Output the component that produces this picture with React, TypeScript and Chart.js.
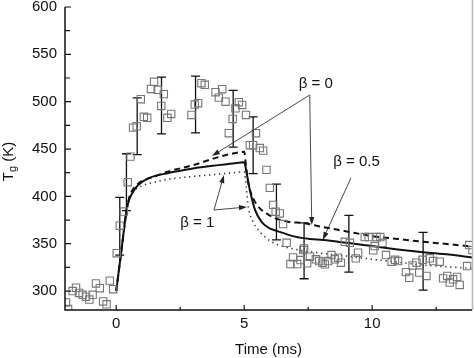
import React, { useEffect, useRef } from "react";
import { Chart, registerables } from "chart.js";
Chart.register(...registerables);

// ---- data ----
const sqX = [
  -1.96, -1.88, -1.7, -1.57, -1.45, -1.31, -1.18, -1.05, -0.92, -0.79, -0.64, -0.51, -0.375, -0.25, -0.12,
  0.02, 0.14, 0.3, 0.45, 0.56, 0.66, 0.8, 0.96, 1.08, 1.21, 1.36, 1.48, 1.62, 1.76, 1.86, 2.0, 2.15,
  2.94, 3.07, 3.2, 3.33, 3.46, 3.88, 4.01, 4.14, 4.27, 4.4, 4.55, 4.66, 4.79, 4.92, 5.07, 5.22, 5.35, 5.46, 5.61, 5.74, 5.87,
  6.0, 6.13, 6.23, 6.39, 6.52, 6.66, 7.34,
  6.81, 6.91, 7.07, 7.2, 7.31, 7.46, 7.57, 7.8, 7.93, 8.06, 8.15, 8.28, 8.41, 8.54, 8.67, 8.78, 8.93, 9.13, 9.36, 9.45,
  9.71, 9.86, 10.04, 10.1, 10.17, 10.32, 10.4, 10.54, 10.76, 10.89, 11.01, 11.32, 11.45, 11.58, 11.73, 11.84, 11.97,
  12.12, 12.25, 12.38, 12.64, 12.77, 12.93, 13.03, 13.16, 13.32, 13.42, 13.71, 13.79, 13.92,
];
const sqY = [
  288, 281, 300, 303.5, 298, 296, 294, 291, 296, 308, 303, 289, 286, 311, 302,
  340, 369, 384, 415, 442, 472.6, 474, 502.6, 484, 483, 513.5, 521, 512.5, 495.5, 508, 483, 487,
  486, 497, 498.4, 519.5, 517.8, 510, 504.3, 513.2, 500, 466.7, 481.8, 493, 499.5, 496.6, 486, 454, 454, 466.7, 451, 448.3, 428,
  409, 391, 383.8, 382, 370.8, 351, 345,
  328.5, 335.6, 328.5, 332.8, 343.3, 329.3, 336.3, 333.5, 331.7, 330, 328.2, 331.7, 338, 333.5, 335.2, 330, 352, 351, 334.5, 340.5,
  357, 357, 343, 347.5, 357, 357, 351, 338, 331, 333, 331.7, 320, 314, 327, 330, 319.5, 333,
  316, 334.6, 331.7, 331, 313.4, 316, 309, 312.4, 315, 306.5, 326.4, 348.6, 343.3,
];

const ebX = [0.14, 0.4, 0.82, 1.77, 3.1, 4.57, 5.35, 6.26, 7.34, 9.09, 11.99];
const ebLow = [338, 385, 444, 466, 467, 452, 424, 354, 313, 320, 301];
const ebHigh = [399, 445, 504, 526, 527, 512, 484, 413, 372, 380, 362];

const b05X = [0, 0.2, 0.41, 0.5, 0.66, 0.86, 1.25, 2.0, 3.0, 4.0, 4.8, 5.0, 5.1, 5.22, 5.42, 5.68, 5.94, 6.33, 6.98, 7.57, 8.1, 9.0, 10.0, 11.0, 12.0, 13.0, 13.9];
const b05Y = [300, 342, 386, 396, 405, 412, 419, 424.5, 429.5, 433, 435.5, 436, 424, 407, 386, 373, 367, 363, 357.5, 355, 354, 351, 347.5, 344, 341, 338.5, 335.5];

const b0X = [0, 0.2, 0.4, 0.5, 0.6, 0.8, 1.0, 1.5, 2.0, 3.0, 4.0, 4.6, 5.0, 5.08, 5.16, 5.35, 5.61, 5.87, 6.2, 6.72, 7.37, 8.0, 9.0, 10.0, 11.0, 12.0, 13.0, 13.9];
const b0Y = [300, 342, 384, 398, 405, 412, 416, 421, 426, 433, 441.5, 445.5, 447, 430, 414, 398, 387.4, 382, 377, 373.3, 371.5, 368, 363, 358, 355, 352, 349.5, 347];

const b1X = [0, 0.2, 0.4, 0.5, 0.6, 0.75, 1.0, 1.5, 2.0, 3.0, 4.0, 4.6, 5.0, 5.08, 5.16, 5.35, 5.55, 5.8, 6.07, 6.46, 7.0, 8.0, 9.0, 10.0, 11.0, 12.0, 13.0, 13.9];
const b1Y = [300, 342, 384, 396, 402, 407, 411, 415, 418, 421, 423.5, 425, 426, 410, 389, 373, 364.5, 357.5, 352, 347.6, 344, 340, 337, 333.5, 330.5, 327.5, 325.5, 324];

const xTicks = [0, 5, 10];
const xMinor = [2.5, 7.5, 12.5];
const yTicks = [300, 350, 400, 450, 500, 550, 600];
const yMinor = [325, 375, 425, 475, 525, 575];

// annotations: label text, label position, arrow start, arrow ends (data units)
const annLabels = ["β = 0", "β = 0.5", "β = 1"];
const annLabelX = [7.8, 9.39, 3.17];
const annLabelY = [518.8, 436.7, 371.6];
const annFromX = [7.56, 9.17, 3.82];
const annFromY = [507, 419.5, 385.6];
const annToX = [[3.74, 7.64], [8.07], [4.21, 5.11]];
const annToY = [[442.7, 369.8], [354], [422.6, 388.8]];

const FONT = "'Liberation Sans', Arial, Helvetica, sans-serif";

const pts = (xs: number[], ys: number[]) => xs.map((x, i) => ({ x, y: ys[i] }));

function arrow(ctx: CanvasRenderingContext2D, x1: number, y1: number, x2: number, y2: number) {
  const a = Math.atan2(y2 - y1, x2 - x1);
  const L = 8, W = 2.6;
  ctx.beginPath();
  ctx.moveTo(x1, y1);
  ctx.lineTo(x2 - Math.cos(a) * L * 0.8, y2 - Math.sin(a) * L * 0.8);
  ctx.stroke();
  ctx.beginPath();
  ctx.moveTo(x2, y2);
  ctx.lineTo(x2 - Math.cos(a) * L - Math.sin(a) * W, y2 - Math.sin(a) * L + Math.cos(a) * W);
  ctx.lineTo(x2 - Math.cos(a) * L + Math.sin(a) * W, y2 - Math.sin(a) * L - Math.cos(a) * W);
  ctx.closePath();
  ctx.fill();
}

const decor = {
  id: "decor",
  beforeDatasetsDraw(chart: any) {
    const { ctx, scales } = chart;
    const xs = scales.x, ys = scales.y;
    ctx.save();
    ctx.strokeStyle = "#111";
    ctx.lineWidth = 1.3;
    ebX.forEach((x, i) => {
      const px = xs.getPixelForValue(x);
      const p1 = ys.getPixelForValue(ebLow[i]);
      const p2 = ys.getPixelForValue(ebHigh[i]);
      ctx.beginPath();
      ctx.moveTo(px, p1); ctx.lineTo(px, p2);
      ctx.moveTo(px - 4.5, p1); ctx.lineTo(px + 4.5, p1);
      ctx.moveTo(px - 4.5, p2); ctx.lineTo(px + 4.5, p2);
      ctx.stroke();
    });
    ctx.restore();
  },
  afterDraw(chart: any) {
    const { ctx, scales, chartArea: ca } = chart;
    const xs = scales.x, ys = scales.y;
    ctx.save();
    // right gray frame
    ctx.strokeStyle = "#b8b8b8";
    ctx.lineWidth = 1.5;
    ctx.beginPath();
    ctx.moveTo(ca.right + 0.5, 0);
    ctx.lineTo(ca.right + 0.5, ca.bottom);
    ctx.stroke();
    // axes
    ctx.strokeStyle = "#111";
    ctx.lineWidth = 1.5;
    ctx.beginPath();
    ctx.moveTo(ca.left, ca.top);
    ctx.lineTo(ca.left, ca.bottom);
    ctx.lineTo(ca.right, ca.bottom);
    ctx.stroke();
    // inward ticks
    ctx.lineWidth = 1.2;
    ctx.beginPath();
    xTicks.forEach((v) => { const p = xs.getPixelForValue(v); ctx.moveTo(p, ca.bottom); ctx.lineTo(p, ca.bottom - 5); });
    xMinor.forEach((v) => { const p = xs.getPixelForValue(v); ctx.moveTo(p, ca.bottom); ctx.lineTo(p, ca.bottom - 3); });
    yTicks.forEach((v) => { const p = ys.getPixelForValue(v); ctx.moveTo(ca.left, p); ctx.lineTo(ca.left + 6, p); });
    yMinor.forEach((v) => { const p = ys.getPixelForValue(v); ctx.moveTo(ca.left, p); ctx.lineTo(ca.left + 5, p); });
    ctx.stroke();
    // axis titles
    ctx.fillStyle = "#111";
    ctx.font = `15px ${FONT}`;
    ctx.textAlign = "center";
    ctx.textBaseline = "alphabetic";
    ctx.fillText("Time (ms)", (ca.left + ca.right) / 2, 353.5);
    // y title with subscript
    ctx.save();
    ctx.translate(12.5, 161.5);
    ctx.rotate(-Math.PI / 2);
    ctx.textAlign = "left";
    const f1 = `15px ${FONT}`, f2 = `11px ${FONT}`;
    ctx.font = f1; const wT = ctx.measureText("T").width;
    ctx.font = f2; const wg = ctx.measureText("g").width;
    ctx.font = f1; const wK = ctx.measureText(" (K)").width;
    let x0 = -(wT + wg + wK) / 2;
    ctx.font = f1; ctx.fillText("T", x0, 0); x0 += wT;
    ctx.font = f2; ctx.fillText("g", x0, 3); x0 += wg;
    ctx.font = f1; ctx.fillText(" (K)", x0, 0);
    ctx.restore();
    // annotations
    ctx.font = `15px ${FONT}`;
    ctx.textAlign = "center";
    ctx.textBaseline = "middle";
    annLabels.forEach((t, i) => {
      ctx.fillText(t, xs.getPixelForValue(annLabelX[i]), ys.getPixelForValue(annLabelY[i]));
    });
    ctx.strokeStyle = "#333";
    ctx.fillStyle = "#222";
    ctx.lineWidth = 0.9;
    annFromX.forEach((fx, i) => {
      const x1 = xs.getPixelForValue(fx), y1 = ys.getPixelForValue(annFromY[i]);
      annToX[i].forEach((tx, j) => {
        arrow(ctx, x1, y1, xs.getPixelForValue(tx), ys.getPixelForValue(annToY[i][j]));
      });
    });
    ctx.restore();
  },
};

const zeroPad = (s: any) => {
  s.paddingTop = 0; s.paddingBottom = 0; s.paddingLeft = 0; s.paddingRight = 0;
};

export default function App() {
  const ref = useRef<HTMLCanvasElement>(null);
  useEffect(() => {
    const chart = new Chart(ref.current!, {
      type: "scatter",
      data: {
        datasets: [
          {
            label: "data",
            data: pts(sqX, sqY),
            pointStyle: "rect",
            pointRadius: 5.2,
            pointBorderColor: "#777",
            pointBackgroundColor: "rgba(255,255,255,0)",
            pointBorderWidth: 1.1,
            showLine: false,
          },
          {
            label: "β = 0.5",
            data: pts(b05X, b05Y),
            showLine: true,
            pointRadius: 0,
            borderColor: "#111",
            borderWidth: 2,
            cubicInterpolationMode: "monotone",
          },
          {
            label: "β = 0",
            data: pts(b0X, b0Y),
            showLine: true,
            pointRadius: 0,
            borderColor: "#111",
            borderWidth: 2,
            borderDash: [6, 4],
            cubicInterpolationMode: "monotone",
          },
          {
            label: "β = 1",
            data: pts(b1X, b1Y),
            showLine: true,
            pointRadius: 0,
            borderColor: "#333",
            borderWidth: 1.6,
            borderDash: [1.3, 3.7],
            cubicInterpolationMode: "monotone",
          },
        ],
      },
      options: {
        animation: false,
        responsive: false,
        devicePixelRatio: 1,
        layout: { autoPadding: false, padding: { top: 7, right: 2, left: 0, bottom: 0 } },
        plugins: { legend: { display: false }, tooltip: { enabled: false } },
        scales: {
          x: {
            type: "linear",
            min: -2,
            max: 13.9,
            grid: { display: false, drawTicks: false },
            border: { display: false },
            ticks: { padding: 5, color: "#111", font: { family: FONT, size: 15 } },
            afterBuildTicks: (s: any) => { s.ticks = xTicks.map((v) => ({ value: v })); },
            afterFit: (s: any) => { s.height = 48; zeroPad(s); },
          },
          y: {
            type: "linear",
            min: 280,
            max: 600,
            grid: { display: false, drawTicks: false },
            border: { display: false },
            ticks: { padding: 8, color: "#111", font: { family: FONT, size: 15 } },
            afterBuildTicks: (s: any) => { s.ticks = yTicks.map((v) => ({ value: v })); },
            afterFit: (s: any) => { s.width = 65; zeroPad(s); },
          },
        },
      },
      plugins: [decor],
    } as any);
    return () => chart.destroy();
  }, []);
  return (
    <div style={{ position: "fixed", left: 0, top: 0, width: 474, height: 358, background: "#fff" }}>
      <canvas ref={ref} width={474} height={358} style={{ display: "block", width: 474, height: 358 }} />
    </div>
  );
}
